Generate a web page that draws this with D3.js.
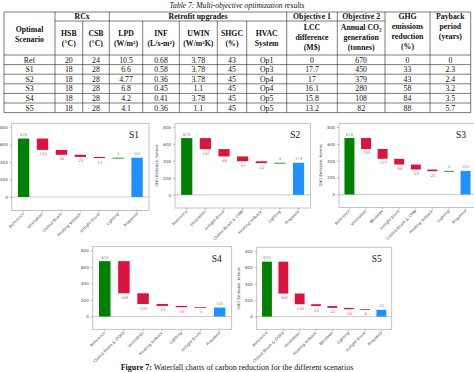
<!DOCTYPE html>
<html>
<head>
<meta charset="utf-8">
<script src="https://cdn.jsdelivr.net/npm/d3@7"></script>
<style>
  body { margin: 0; background: #fff; }
  svg { display: block; }
  .tbl text { font-family: "Liberation Serif", "Times New Roman", serif; fill: #111; }
  .wf text { font-family: "DejaVu Sans", sans-serif; }
</style>
</head>
<body>
<svg id="page" width="474" height="372"></svg>
<script>
// ---- table values ----
var scenarios = ["Ref", "S1", "S2", "S3", "S4", "S5"];
var hsb = ["20", "18", "18", "18", "18", "18"];
var csb = ["24", "28", "28", "28", "28", "28"];
var lpd = ["10.5", "6.6", "4.77", "6.8", "4.2", "4.1"];
var inf = ["0.68", "0.58", "0.36", "0.45", "0.41", "0.36"];
var uwin = ["3.78", "3.78", "3.78", "1.1", "3.78", "1.1"];
var shgc = ["43", "45", "45", "45", "45", "45"];
var hvac = ["Op1", "Op3", "Op4", "Op4", "Op5", "Op5"];
var lcc = ["0", "17.7", "17", "16.1", "15.8", "13.2"];
var co2 = ["670", "450", "379", "280", "108", "82"];
var ghg = ["0", "33", "43", "58", "84", "88"];
var payback = ["0", "2.3", "2.4", "3.2", "3.5", "5.7"];

// ---- waterfall values (tonnes) ----
var s1Steps = ["Reference", "Ventilation", "Chilled Beam", "Heating setback", "Airtight Envel", "Lighting", "Proposed"];
var s1Values = [670, -130, -56, -25, -13, 4];
var s1Total = 450;

var s2Steps = ["Reference", "Ventilation", "Airtight Envel", "Chilled Beam & CHW", "Heating setback", "Lighting", "Proposed"];
var s2Values = [670, -130, -86, -57, -22, 4];
var s2Total = 379;

var s3Steps = ["Reference", "Ventilation", "Windows", "Airtight Envel", "Chilled Beam & CHW", "Heating setback", "Lighting", "Proposed"];
var s3Values = [670, -130, -117, -68, -59, -20, 4];
var s3Total = 280;

var s4Steps = ["Reference", "Chilled Beam & DOAS", "Ventilation", "Heating setback", "Lighting", "Airtight Envel", "Proposed"];
var s4Values = [670, -389, -130, -23, -16, -4];
var s4Total = 108;

var s5Steps = ["Reference", "Chilled Beam & DOAS", "Ventilation", "Heating setback", "Windows", "Lighting", "Airtight Envel", "Proposed"];
var s5Values = [670, -389, -130, -23, -22, -16, -8];
var s5Total = 82;

var yTicks = [0, 200, 400, 600, 800];

var svg = d3.select("#page");

// ================= table =================
var tbl = svg.append("g").attr("class", "tbl");

tbl.append("text")
  .attr("x", 237).attr("y", 7.5)
  .attr("text-anchor", "middle")
  .style("font-size", "7.6px")
  .style("font-style", "italic")
  .text("Table 7: Multi-objective optimization results");

var colX = [4, 55, 82.7, 109.3, 142.7, 179.3, 217.3, 246.7, 286.7, 337.3, 385, 430, 470.7];
var tTop = 12, tMid = 21, tHead = 55, rowH = 9.6;
var tBot = tHead + rowH * scenarios.length;

function hline(x1, x2, y) {
  tbl.append("line").attr("x1", x1).attr("x2", x2).attr("y1", y).attr("y2", y)
    .attr("stroke", "#222").attr("stroke-width", 0.6);
}
function vline(x, y1, y2) {
  tbl.append("line").attr("x1", x).attr("x2", x).attr("y1", y1).attr("y2", y2)
    .attr("stroke", "#222").attr("stroke-width", 0.6);
}

hline(colX[0], colX[12], tTop);
hline(colX[1], colX[10], tMid);
for (var r = 0; r <= scenarios.length; r++) hline(colX[0], colX[12], tHead + rowH * r);
[0, 1, 3, 8, 9, 10, 11, 12].forEach(function(i) { vline(colX[i], tTop, tBot); });
[2, 4, 5, 6, 7].forEach(function(i) { vline(colX[i], tMid, tBot); });

function cellText(c0, c1, lines, ys, bold) {
  lines.forEach(function(t, i) {
    tbl.append("text")
      .attr("x", (colX[c0] + colX[c1]) / 2)
      .attr("y", ys[i] + 2.8)
      .attr("text-anchor", "middle")
      .style("font-size", "7.8px")
      .style("font-weight", bold ? "bold" : "normal")
      .text(t);
  });
}

// header
cellText(1, 3, ["RCx"], [16.5], true);
cellText(3, 8, ["Retrofit upgrades"], [16.5], true);
cellText(8, 9, ["Objective 1"], [16.5], true);
cellText(9, 10, ["Objective 2"], [16.5], true);
cellText(0, 1, ["Optimal", "Scenario"], [29, 39], true);
cellText(1, 2, ["HSB", "(°C)"], [33, 43.5], true);
cellText(2, 3, ["CSB", "(°C)"], [33, 43.5], true);
cellText(3, 4, ["LPD", "(W/m²)"], [33, 43.5], true);
cellText(4, 5, ["INF", "(L/s-m²)"], [33, 43.5], true);
cellText(5, 6, ["UWIN", "(W/m²K)"], [33, 43.5], true);
cellText(6, 7, ["SHGC", "(%)"], [33, 43.5], true);
cellText(7, 8, ["HVAC", "System"], [33, 43.5], true);
cellText(8, 9, ["LCC", "difference", "(M$)"], [27.5, 37.5, 47.5], true);
cellText(9, 10, ["Annual CO₂", "generation", "(tonnes)"], [27.5, 37.5, 47.5], true);
cellText(10, 11, ["GHG", "emissions", "reduction", "(%)"], [16.5, 26.5, 36.5, 46.5], true);
cellText(11, 12, ["Payback", "period", "(years)"], [16.5, 26.5, 36.5], true);

// body rows
var columns = [scenarios, hsb, csb, lpd, inf, uwin, shgc, hvac, lcc, co2, ghg, payback];
scenarios.forEach(function(s, r) {
  var yc = tHead + rowH * r + rowH / 2;
  columns.forEach(function(col, c) {
    cellText(c, c + 1, [col[r]], [yc], false);
  });
});

// ================= waterfall charts =================
var green = "#008000", red = "#dc143c", blue = "#1e90ff";

function waterfall(name, steps, values, total, box, showYLabel) {
  var g = svg.append("g").attr("class", "wf");

  var x = d3.scaleBand()
    .domain(steps)
    .range([box.left, box.right])
    .paddingInner(0.4)
    .paddingOuter(0.33);

  var y = d3.scaleLinear()
    .domain([-155, 845])
    .range([box.bottom, box.top]);

  // build the bars from the running total
  var bars = [];
  var run = 0;
  values.forEach(function(v, i) {
    var start = i === 0 ? 0 : run;
    var end = start + v;
    bars.push({ step: steps[i], lo: Math.min(start, end), hi: Math.max(start, end), v: v,
                color: v < 0 ? red : green });
    run = end;
  });
  bars.push({ step: steps[steps.length - 1], lo: 0, hi: total, v: total, color: blue });

  // frame
  g.append("rect")
    .attr("x", box.left).attr("y", box.top)
    .attr("width", box.right - box.left).attr("height", box.bottom - box.top)
    .attr("fill", "none").attr("stroke", "#b5b5b5").attr("stroke-width", 0.8);

  // zero line
  g.append("line")
    .attr("x1", box.left).attr("x2", box.right)
    .attr("y1", y(0)).attr("y2", y(0))
    .attr("stroke", "#9a9a9a").attr("stroke-width", 0.5);

  g.selectAll("rect.bar")
    .data(bars)
    .enter().append("rect")
      .attr("class", "bar")
      .attr("x", function(d) { return x(d.step); })
      .attr("width", x.bandwidth())
      .attr("y", function(d) { return y(d.hi); })
      .attr("height", function(d) { return Math.max(0.8, y(d.lo) - y(d.hi)); })
      .attr("fill", function(d) { return d.color; });

  // value labels: above positive bars, below negative ones
  g.selectAll("text.val")
    .data(bars)
    .enter().append("text")
      .attr("class", "val")
      .attr("x", function(d) { return x(d.step) + x.bandwidth() / 2; })
      .attr("y", function(d) { return d.v < 0 ? y(d.lo) + 5.5 : y(d.hi) - 2.5; })
      .attr("text-anchor", "middle")
      .style("font-size", "3.8px")
      .attr("fill", function(d) { return d.color; })
      .attr("fill-opacity", 0.8)
      .text(function(d) { return d.v; });

  // y axis
  var ya = g.append("g")
    .attr("transform", "translate(" + box.left + ",0)")
    .call(d3.axisLeft(y).tickValues(yTicks).tickSize(2).tickPadding(2));
  ya.select(".domain").remove();
  ya.selectAll("line").attr("stroke", "#666").attr("stroke-width", 0.4);
  ya.selectAll("text").style("font-size", "4px").attr("fill", "#444");

  // x axis
  var xa = g.append("g")
    .attr("transform", "translate(0," + box.bottom + ")")
    .call(d3.axisBottom(x).tickSize(2).tickPadding(1));
  xa.select(".domain").remove();
  xa.selectAll("line").attr("stroke", "#666").attr("stroke-width", 0.4);
  xa.selectAll("text")
    .style("font-size", "3.9px")
    .attr("fill", "#444")
    .attr("text-anchor", "end")
    .attr("dy", "0.3em")
    .attr("transform", "translate(0,3) rotate(-45)")
    .attr("y", 0).attr("x", 0);

  if (showYLabel) {
    g.append("text")
      .attr("transform", "translate(" + (box.left - 17) + "," + ((box.top + box.bottom) / 2) + ") rotate(-90)")
      .attr("text-anchor", "middle")
      .style("font-size", "3.8px")
      .attr("fill", "#444")
      .text("GHG Emission, tonnes");
  }

  g.append("text")
    .attr("x", box.right - 15).attr("y", box.top + 15)
    .attr("text-anchor", "middle")
    .style("font-family", "'Liberation Serif', serif")
    .style("font-size", "9.5px")
    .attr("fill", "#111")
    .text(name);
}

waterfall("S1", s1Steps, s1Values, s1Total, { left: 11.7, right: 149, top: 123.3, bottom: 210.5 }, false);
waterfall("S2", s2Steps, s2Values, s2Total, { left: 175, right: 310.3, top: 123.3, bottom: 208 }, true);
waterfall("S3", s3Steps, s3Values, s3Total, { left: 339, right: 476, top: 123.3, bottom: 207.5 }, true);
waterfall("S4", s4Steps, s4Values, s4Total, { left: 92.7, right: 231.7, top: 246.7, bottom: 329.3 }, false);
waterfall("S5", s5Steps, s5Values, s5Total, { left: 256.7, right: 391.7, top: 247.3, bottom: 329.3 }, true);

// figure caption at the bottom edge
svg.append("text")
  .attr("x", 237).attr("y", 369.5)
  .attr("text-anchor", "middle")
  .style("font-family", "'Liberation Serif', serif")
  .style("font-size", "8px")
  .attr("fill", "#111")
  .html("<tspan font-weight='bold'>Figure 7:</tspan> Waterfall charts of carbon reduction for the different scenarios");
</script>
</body>
</html>
